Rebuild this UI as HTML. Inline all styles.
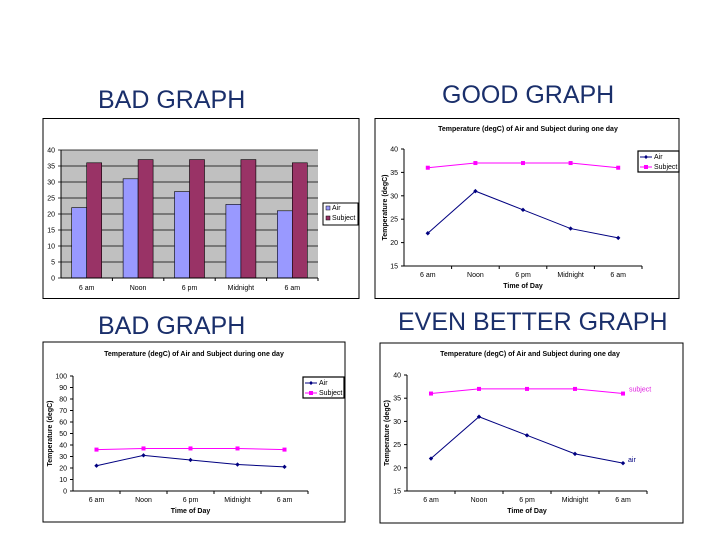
<!DOCTYPE html>
<html><head><meta charset="utf-8"><style>
html,body{margin:0;padding:0;background:#fff;}
svg{display:block;font-family:"Liberation Sans",Arial,sans-serif;}
.h{fill:#1a2f6b;font-size:25px;}
.t{font-size:7px;fill:#000;}
.b{font-size:7px;font-weight:bold;fill:#000;}
</style></head><body>
<svg id="s" width="728" height="546" viewBox="0 0 728 546">
<text class="h" x="98" y="108">BAD GRAPH</text>
<text class="h" x="442" y="103">GOOD GRAPH</text>
<text class="h" x="98" y="334">BAD GRAPH</text>
<text class="h" x="398" y="330">EVEN BETTER GRAPH</text>
</svg>
<script>
const categories=["6 am","Noon","6 pm","Midnight","6 am"];
const airValues=[22,31,27,23,21];
const subjectValues=[36,37,37,37,36];
const barTicks=[0,5,10,15,20,25,30,35,40];
const goodTicks=[15,20,25,30,35,40];
const badTicks=[0,10,20,30,40,50,60,70,80,90,100];

const svg=document.getElementById('s');
const NS='http://www.w3.org/2000/svg';
function mk(tag,attrs,parent,text){
  const e=document.createElementNS(NS,tag);
  for(const k in attrs)e.setAttribute(k,attrs[k]);
  if(text!==undefined)e.textContent=text;
  (parent||svg).appendChild(e);return e;
}

// ---------- Chart 1: bar chart ----------
(function(){
  const g=mk('g',{});
  
  
  mk('rect',{x:43,y:118.5,width:316,height:180,fill:'#fff',stroke:'#000','stroke-width':1},g);
  const x0=61,x1=318,y0=278,y1=150,min=0,max=40;
  const ys=v=>y0-(v-min)/(max-min)*(y0-y1);
  mk('rect',{x:x0,y:y1,width:x1-x0,height:y0-y1,fill:'#c0c0c0'},g);
  barTicks.forEach(t=>{
    const y=ys(t);
    const l=mk('line',{x1:x0-3,x2:x1,y1:y,y2:y,stroke:'#000','stroke-width':0.8},g);
    
    
    const tx=mk('text',{class:'t',x:x0-6,y:y+2.5,'text-anchor':'end'},g,t);
    
    
  });
  mk('line',{x1:x0,x2:x0,y1:y1,y2:y0,stroke:'#000'},g);
  const cw=(x1-x0)/categories.length;
  categories.forEach((c,i)=>{
    const cx=x0+cw*(i+0.5);
    mk('line',{x1:x0+cw*(i+1),x2:x0+cw*(i+1),y1:y0,y2:y0+3,stroke:'#000'},g);
    const a=mk('rect',{x:cx-15,y:ys(airValues[i]),width:15,height:y0-ys(airValues[i]),fill:'#9999ff',stroke:'#000','stroke-width':0.6},g);
    
    
    const s=mk('rect',{x:cx,y:ys(subjectValues[i]),width:15,height:y0-ys(subjectValues[i]),fill:'#993366',stroke:'#000','stroke-width':0.6},g);
    
    
    const tx=mk('text',{class:'t',x:cx,y:y0+12,'text-anchor':'middle'},g,c);
    
    
  });
  mk('line',{x1:x0,x2:x1,y1:y0,y2:y0,stroke:'#000'},g);
  const lg=mk('g',{},g);
  
  
  mk('rect',{x:323,y:203,width:35,height:22,fill:'#fff',stroke:'#000'},lg);
  mk('rect',{x:326,y:206,width:4,height:4,fill:'#9999ff',stroke:'#000','stroke-width':0.5},lg);
  mk('text',{class:'t',x:332,y:210},lg,'Air');
  mk('rect',{x:326,y:216,width:4,height:4,fill:'#993366',stroke:'#000','stroke-width':0.5},lg);
  mk('text',{class:'t',x:332,y:220},lg,'Subject');
})();

// ---------- line chart helper ----------
function lineChart(o){
  const g=mk('g',{});
  
  
  mk('rect',{x:o.bx,y:o.by,width:o.bw,height:o.bh,fill:'#fff',stroke:'#000','stroke-width':1},g);
  const tt=mk('text',{class:'b',x:o.tx,y:o.ty,'text-anchor':'middle'},g,'Temperature (degC) of Air and Subject during one day');
  
  
  const {x0,x1,y0,y1,ticks}=o;
  const min=ticks[0],max=ticks[ticks.length-1];
  const ys=v=>y0-(v-min)/(max-min)*(y0-y1);
  const cw=(x1-x0)/categories.length;
  const xs=i=>x0+cw*(i+0.5);
  mk('line',{x1:x0,x2:x0,y1:y1,y2:y0,stroke:'#000'},g);
  mk('line',{x1:x0,x2:x1,y1:y0,y2:y0,stroke:'#000'},g);
  ticks.forEach(t=>{
    mk('line',{x1:x0-3,x2:x0,y1:ys(t),y2:ys(t),stroke:'#000'},g);
    const tx=mk('text',{class:'t',x:x0-6,y:ys(t)+2.5,'text-anchor':'end'},g,t);
    
    
  });
  categories.forEach((c,i)=>{
    mk('line',{x1:x0+cw*(i+1),x2:x0+cw*(i+1),y1:y0,y2:y0+3,stroke:'#000'},g);
    const tx=mk('text',{class:'t',x:xs(i),y:y0+11,'text-anchor':'middle'},g,c);
    
    
  });
  const xt=mk('text',{class:'b',x:(x0+x1)/2,y:o.xty,'text-anchor':'middle'},g,'Time of Day');
  
  
  const yl=mk('text',{class:'b',x:0,y:0,'text-anchor':'middle',transform:`translate(${o.ytx},${(y0+y1)/2}) rotate(-90)`},g,'Temperature (degC)');
  
  
  const air=mk('polyline',{points:airValues.map((v,i)=>xs(i)+','+ys(v)).join(' '),fill:'none',stroke:'#000080','stroke-width':1},g);
  
  
  airValues.forEach((v,i)=>{
    const p=mk('path',{d:`M${xs(i)-2.2},${ys(v)}L${xs(i)},${ys(v)-2.2}L${xs(i)+2.2},${ys(v)}L${xs(i)},${ys(v)+2.2}Z`,fill:'#000080'},g);
    
    
  });
  const sub=mk('polyline',{points:subjectValues.map((v,i)=>xs(i)+','+ys(v)).join(' '),fill:'none',stroke:'#ff00ff','stroke-width':1},g);
  
  
  subjectValues.forEach((v,i)=>{
    const p=mk('rect',{x:xs(i)-2,y:ys(v)-2,width:4,height:4,fill:'#ff00ff'},g);
    
    
  });
  if(o.legend){
    const L=o.legend;
    const lg=mk('g',{},g);
    
    
    mk('rect',{x:L.x,y:L.y,width:L.w,height:L.h,fill:'#fff',stroke:'#000','stroke-width':1.2},lg);
    mk('line',{x1:L.x+2,x2:L.x+14,y1:L.y+6,y2:L.y+6,stroke:'#000080'},lg);
    mk('path',{d:`M${L.x+6},${L.y+6}l2,-2l2,2l-2,2z`,fill:'#000080'},lg);
    mk('text',{class:'t',x:L.x+16,y:L.y+8},lg,'Air');
    mk('line',{x1:L.x+2,x2:L.x+14,y1:L.y+16,y2:L.y+16,stroke:'#ff00ff'},lg);
    mk('rect',{x:L.x+6,y:L.y+14,width:4,height:4,fill:'#ff00ff'},lg);
    mk('text',{class:'t',x:L.x+16,y:L.y+18},lg,'Subject');
  }
  if(o.direct){
    const s=mk('text',{class:'t',x:o.direct.sx,y:ys(subjectValues[4])-2,style:'fill:#e020e0'},g,'subject');
    
    
    const a=mk('text',{class:'t',x:o.direct.ax,y:ys(airValues[4])-1,style:'fill:#000080'},g,'air');
    
    
  }
}

lineChart({name:'good-line-chart',bx:375,by:118.5,bw:304,bh:180,tx:528,ty:131,
  x0:404,x1:642,y0:266,y1:149,ticks:goodTicks,xty:288,ytx:387,
  legend:{x:638,y:151,w:41,h:21}});
lineChart({name:'bad-line-chart',bx:43,by:342,bw:302,bh:180,tx:194,ty:356,
  x0:73,x1:308,y0:491,y1:376,ticks:badTicks,xty:513,ytx:52,
  legend:{x:303,y:377,w:41,h:21}});
lineChart({name:'even-better-line-chart',bx:380,by:343,bw:303,bh:180,tx:530,ty:356,
  x0:407,x1:647,y0:491,y1:375,ticks:goodTicks,xty:513,ytx:389,
  direct:{sx:629,ax:628}});
</script>
</body></html>
